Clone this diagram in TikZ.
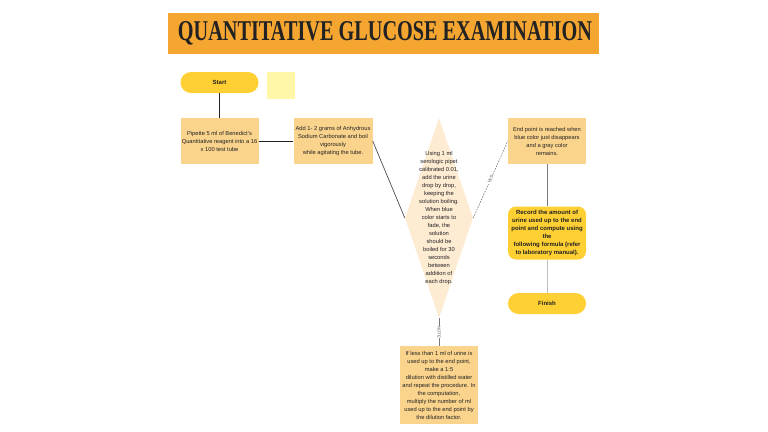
\documentclass[tikz,border=0pt]{standalone}
\usepackage{fontspec}
\setmainfont{Liberation Sans}
\newfontfamily\titlefont{Liberation Serif}
\usetikzlibrary{positioning, shapes.geometric}
\definecolor{cbanner}{HTML}{F5A631}
\definecolor{cgold}{HTML}{FFD033}
\definecolor{cpeach}{HTML}{FAD38C}
\definecolor{cpale}{HTML}{FDEBD2}
\definecolor{cnote}{HTML}{FFF6A8}
\definecolor{cink}{HTML}{222222}
\tikzset{
  every picture/.style={font=\fontsize{5.75}{8}\selectfont},
  box/.style={fill=#1, text=cink, align=center, inner sep=0.3pt, minimum width=78pt, minimum height=46pt},
  box/.default=cpeach,
  pill/.style={box=cgold, rounded corners=10.5pt, minimum height=21pt, font=\fontsize{6}{8}\selectfont\bfseries},
  link/.style={draw=#1, line width=0.8pt},
  link/.default=cink,
  tag/.style={font=\fontsize{4.2}{4.2}\selectfont, text=cink!80, fill=white, inner sep=0.6pt},
}

\begin{document}
\begin{tikzpicture}[x=1pt, y=-1pt]
  \fill[white] (0,0) rectangle (768,431);
  \useasboundingbox (0,0) rectangle (768,431);

  % title
  \node[fill=cbanner, minimum width=431pt, minimum height=41pt, inner sep=0pt] (banner) at (383.5,33.5) {};
  \node[text=cink, inner sep=0pt] (title) at (385,33) {\resizebox{414pt}{19pt}{\titlefont\bfseries QUANTITATIVE GLUCOSE EXAMINATION}};

  % left column
  \node[pill] (start) at (219.5,82.5) {Start};
  \node[fill=cnote, minimum width=28pt, minimum height=27pt, inner sep=0pt] (memo) at (281,85.5) {};
  \node[box] (pipette) at (219.5,141) {Pipette 5 ml of Benedict's\\Quantitative reagent into a 16\\x 100 test tube};
  \node[box, minimum width=79pt] (boil) at (333,141) {Add 1- 2 grams of Anhydrous\\Sodium Carbonate and boil\\vigorously\\while agitating the tube.};
  \draw[link, line width=1.3pt] (start) -- (pipette);
  \draw[link] (pipette) -- (boil);

  % decision
  \node[diamond, fill=cpale, minimum width=68pt, minimum height=200pt, inner sep=0pt] (titrate) at (439,218) {};
  \node[text=cink, align=center, inner sep=0pt] (steps) at (titrate.center) {Using 1 ml\\serologic pipet\\calibrated 0.01,\\add the urine\\drop by drop,\\keeping the\\solution boiling.\\When blue\\color starts to\\fade, the\\solution\\should be\\boiled for 30\\seconds\\between\\addition of\\each drop.};
  \draw[link=cink!80, line width=0.7pt] (boil.east) -- (titrate.west);

  \node[box] (endpt) at (547,141) {End point is reached when\\blue color just disappears\\and a gray color\\remains.};
  \draw[link=cink!70, line width=0.5pt, dash pattern=on 1.6pt off 1.2pt] (titrate.east) -- node[tag, midway, sloped] {YES} (endpt.west);

  % right column
  \node[box=cgold, rounded corners=8pt, minimum height=53pt, font=\fontsize{6}{8}\selectfont\bfseries] (record) at (547,233) {Record the amount of\\urine used up to the end\\point and compute using\\the\\following formula (refer\\to laboratory manual).};
  \node[pill] (finish) at (547,303.5) {Finish};
  \draw[link=cink!60, line width=1pt] (endpt) -- (record);
  \draw[link=cink!30] (record) -- (finish);

  % note
  \node[box, minimum height=78pt] (dilute) at (439,385) {If less than 1 ml of urine is\\used up to the end point,\\make a 1:5\\dilution with distilled water\\and repeat the procedure. In\\the computation,\\multiply the number of ml\\used up to the end point by\\the dilution factor.};
  \draw[link=cink!60, line width=0.6pt] (titrate.south) -- node[tag, midway, rotate=-90] {NOTE} (dilute.north);
\end{tikzpicture}
\end{document}
